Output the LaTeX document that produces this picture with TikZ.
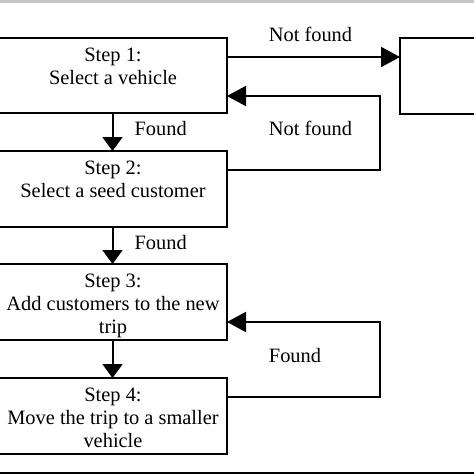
\documentclass[tikz,border=0pt]{standalone}
\usepackage{fontspec}
\setmainfont{Liberation Serif}
\usetikzlibrary{arrows.meta}
\begin{document}
\begin{tikzpicture}[x=1pt,y=-1pt,
  box/.style={draw, line width=1.5pt, minimum width=229pt, minimum height=76pt, anchor=north west, inner sep=0pt, outer sep=0pt},
  txt/.style={font=\fontsize{20.4}{23}\selectfont, align=center, anchor=north, inner sep=0pt},
  lbl/.style={font=\fontsize{20.4}{23}\selectfont, anchor=base, inner sep=0pt},
  conn/.style={line width=2pt},
  harrow/.style={conn, -{Triangle[length=19pt,width=20pt]}},
  varrow/.style={conn, -{Triangle[length=14pt,width=20pt]}}]
\useasboundingbox (0,0) rectangle (474,474);
\fill[gray!45] (0,0) rectangle (474,2.5);
\fill[black] (0,471.5) rectangle (474,474);
% boxes
\node[box, minimum height=75pt] (b1) at (-2,38) {};
\node[box] (b2) at (-2,151) {};
\node[box] (b3) at (-2,264) {};
\node[box] (b4) at (-2,378) {};
\node[box, minimum width=90pt] (b5) at (400,38) {};
% box texts
\node[txt] (t1) at (113,48) {Step 1:\\Select a vehicle};
\node[txt] (t2) at (113,161) {Step 2:\\Select a seed customer};
\node[txt] (t3) at (113,274) {Step 3:\\Add customers to the new\\trip};
\node[txt] (t4) at (113,388) {Step 4:\\Move the trip to a smaller\\vehicle};
% labels
\node[lbl] (nf1) at (310.5,41.7) {Not found};
\node[lbl] (nf2) at (310.5,135) {Not found};
\node[lbl] (f1) at (160.7,135) {Found};
\node[lbl] (f2) at (160.7,249) {Found};
\node[lbl] (f3) at (295,362.7) {Found};
% connectors
\draw[varrow] (b1.south) -- (b2.north);
\draw[varrow] (b2.south) -- (b3.north);
\draw[varrow] (b3.south) -- (b4.north);
\coordinate (c1) at ([yshift=-19pt]b1.north east);
\coordinate (c2) at ([yshift=-58pt]b1.north east);
\coordinate (c3) at ([yshift=-19pt]b2.north east);
\coordinate (c4) at (380,0);
\coordinate (c5) at ([yshift=-19pt]b4.north east);
\coordinate (c6) at ([yshift=-58pt]b3.north east);
\draw[harrow] (c1) -- (c1 -| b5.west);
\draw[harrow] (c3) -- (c3 -| c4) -- (c2 -| c4) -- (c2);
\draw[harrow] (c5) -- (c5 -| c4) -- (c6 -| c4) -- (c6);
\end{tikzpicture}
\end{document}
